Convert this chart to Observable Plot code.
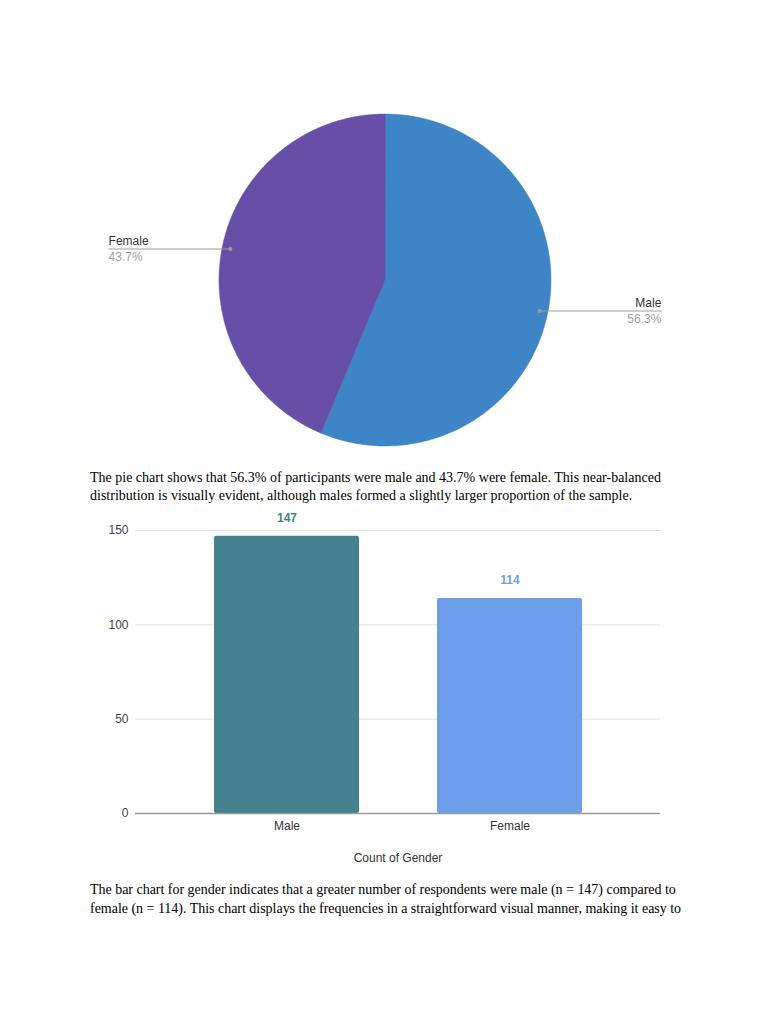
<!DOCTYPE html>
<html>
<head>
<meta charset="utf-8">
<script src="https://cdn.jsdelivr.net/npm/d3@7"></script>
<script src="https://cdn.jsdelivr.net/npm/@observablehq/plot@0.6"></script>
<style>
  html, body { margin: 0; padding: 0; background: #fff; }
  #page { position: relative; width: 768px; height: 1024px; overflow: hidden; }
  .abs { position: absolute; left: 0; top: 0; }
  .para { position: absolute; left: 90px; font-family: "Liberation Serif", "Times New Roman", serif; font-size: 14px; color: #000; white-space: nowrap; }
  #p1 { top: 469px; line-height: 18px; }
  #p2 { top: 880px; line-height: 19px; letter-spacing: -0.02px; }
  #pie { top: 0; }
  #bar { top: 505px; }
</style>
</head>
<body>
<div id="page">
  <div id="pie" class="abs"></div>
  <div id="p1" class="para">The pie chart shows that 56.3% of participants were male and 43.7% were female. This near-balanced<br>distribution is visually evident, although males formed a slightly larger proportion of the sample.</div>
  <div id="bar" class="abs"></div>
  <div id="p2" class="para">The bar chart for gender indicates that a greater number of respondents were male (n = 147) compared to<br>female (n = 114). This chart displays the frequencies in a straightforward visual manner, making it easy to</div>
</div>
<script>
// ---- data ----
const genders = ["Male", "Female"];
const percents = [56.3, 43.7];
const counts = [147, 114];
const pieColors = ["#3d85c6", "#674ea7"];
const barColors = ["#45818e", "#6d9eeb"];
const yTicks = [0, 50, 100, 150];
const axisTitle = "Count of Gender";

const font = "Arial, 'Liberation Sans', sans-serif";

// ---- pie layout (pixels) ----
const W = 768, H = 470, CX = 384.5, CY = 279.5, R = 166;

const pieRows = genders.map((g, i) => ({gender: g, pct: percents[i], color: pieColors[i]}));
const arcs = d3.pie().sort(null).value(d => d.pct)(pieRows);
const slices = arcs.map(a => {
  const ring = [[0, 0]];
  const n = Math.max(8, Math.ceil((a.endAngle - a.startAngle) / (Math.PI / 360)));
  for (let k = 0; k <= n; ++k) {
    const t = a.startAngle + (a.endAngle - a.startAngle) * k / n;
    ring.push([Math.sin(t), -Math.cos(t)]);
  }
  ring.push([0, 0]);
  return {type: "Feature", properties: a.data, geometry: {type: "Polygon", coordinates: [ring]}};
});
const leaderR = 0.95, leaderEnd = 1.665;
const leaders = arcs.map(a => {
  const m = (a.startAngle + a.endAngle) / 2;
  const x0 = leaderR * Math.sin(m), y0 = -leaderR * Math.cos(m);
  const side = x0 < 0 ? -1 : 1;
  return {gender: a.data.gender, pct: a.data.pct, x0, y0, x1: side * leaderEnd, side};
});
const leaderLines = leaders.flatMap(d => [{g: d.gender, x: d.x0, y: d.y0}, {g: d.gender, x: d.x1, y: d.y0}]);
const left = leaders.filter(d => d.side < 0), right = leaders.filter(d => d.side > 0);
// domain rectangle covering the whole SVG in unit (radius) coordinates
const x0d = -CX / R, x1d = (W - CX) / R, y0d = -CY / R, y1d = (H - CY) / R;
const domainRect = {type: "Polygon", coordinates: [[[x0d, y0d], [x1d, y0d], [x1d, y1d], [x0d, y1d], [x0d, y0d]]]};

const labelMarks = (arr, anchor) => [
  Plot.text(arr, {x: "x1", y: "y0", text: "gender", textAnchor: anchor, dy: -8, fill: "#333", fontSize: 12, fontFamily: font}),
  Plot.text(arr, {x: "x1", y: "y0", text: d => d.pct + "%", textAnchor: anchor, dy: 8, fill: "#9e9e9e", fontSize: 12, fontFamily: font})
];

const pie = Plot.plot({
  width: W, height: H,
  margin: 0,
  projection: {type: "identity", domain: domainRect},
  style: {background: "transparent"},
  marks: [
    Plot.geo(slices, {fill: d => d.properties.color, stroke: d => d.properties.color, strokeWidth: 0.5}),
    Plot.line(leaderLines, {x: "x", y: "y", z: "g", stroke: "#9e9e9e", strokeWidth: 1}),
    Plot.dot(leaders, {x: "x0", y: "y0", r: 2, fill: "#9e9e9e", stroke: null}),
    ...labelMarks(left, "start"),
    ...labelMarks(right, "end")
  ]
});
document.getElementById("pie").appendChild(pie);

// ---- bar ----
const barRows = genders.map((g, i) => ({gender: g, count: counts[i], color: barColors[i]}));
const bar = Plot.plot({
  width: 768, height: 370,
  marginLeft: 135, marginRight: 108, marginTop: 25, marginBottom: 62,
  style: {background: "transparent", fontFamily: font},
  x: {domain: genders, padding: 0.35, label: axisTitle},
  y: {domain: [0, 150], label: null},
  marks: [
    Plot.ruleY(yTicks.filter(t => t > 0), {stroke: "#e0e0e0", strokeWidth: 1}),
    Plot.barY(barRows, {x: "gender", y: "count", fill: "color", rx: 2}),
    Plot.ruleY([0], {stroke: "#999", strokeWidth: 1.5}),
    Plot.text(barRows, {x: "gender", y: "count", text: d => String(d.count), fill: "color", lineAnchor: "bottom", dy: -14, fontSize: 12, fontWeight: 600, fontFamily: font}),
    Plot.axisY({ticks: yTicks, tickSize: 0, tickPadding: 7, fontSize: 12, fill: "#444", label: null}),
    Plot.axisX({tickSize: 0, tickPadding: 8, fontSize: 12, fill: "#333", label: axisTitle, labelAnchor: "center", labelOffset: 48})
  ]
});
document.getElementById("bar").appendChild(bar);
</script>
</body>
</html>
